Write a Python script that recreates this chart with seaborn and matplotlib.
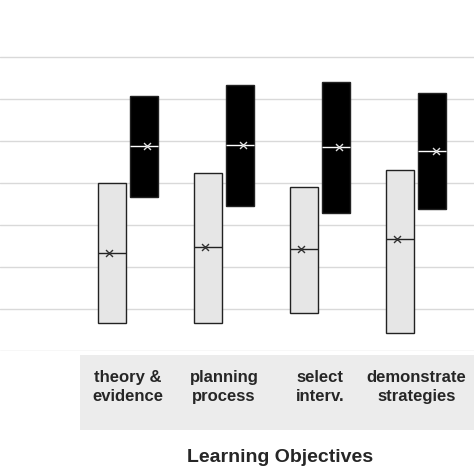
import matplotlib
matplotlib.use('Agg')

import matplotlib.pyplot as plt
import pandas as pd
import seaborn as sns
from matplotlib.patches import Rectangle

# Box stats: (q1, median, q3)
objectives = ['theory &\nevidence', 'planning\nprocess', 'select\ninterv.', 'demonstrate\nstrategies']
groups = ['pre', 'post']
pre_q1 = [0.67, 0.67, 0.90, 0.43]
pre_med = [2.33, 2.48, 2.43, 2.67]
pre_q3 = [4.00, 4.24, 3.90, 4.31]
post_q1 = [3.67, 3.45, 3.29, 3.38]
post_med = [4.88, 4.90, 4.86, 4.76]
post_q3 = [6.07, 6.33, 6.40, 6.14]

rows = []
for i, obj in enumerate(objectives):
    for g, q1, med, q3 in [('pre', pre_q1, pre_med, pre_q3), ('post', post_q1, post_med, post_q3)]:
        for v in [q1[i], q1[i], med[i], q3[i], q3[i]]:
            rows.append({'objective': obj, 'group': g, 'score': v})
df = pd.DataFrame(rows)
med_df = pd.DataFrame({
    'objective': objectives * 2,
    'group': ['pre'] * 4 + ['post'] * 4,
    'score': pre_med + post_med,
})

sns.set_style("white")
plt.rcParams['font.family'] = ['Liberation Sans', 'DejaVu Sans']

fig = plt.figure(figsize=(4.74, 4.74), dpi=100)
ax = fig.add_axes([0, (474 - 351) / 474, 1, 351 / 474])

sns.boxplot(data=df, x='objective', y='score', hue='group', hue_order=groups,
            palette={'pre': '#e6e6e6', 'post': '#000000'}, width=0.66, gap=0.12,
            whis=0, showcaps=False, showfliers=False, legend=False, ax=ax,
            linecolor='#333333', linewidth=1,
            medianprops={'color': '#ffffff'})
for patch in ax.patches:
    patch.set_edgecolor('#222222')

sns.stripplot(data=med_df, x='objective', y='score', hue='group', hue_order=groups,
              palette={'pre': '#333333', 'post': '#dddddd'}, dodge=True, jitter=False,
              marker='x', size=5, linewidth=1, legend=False, ax=ax)

# pre medians dark
for l in ax.lines:
    yd = l.get_ydata()
    if len(yd) == 2 and yd[0] == yd[1] and any(abs(yd[0] - m) < 1e-6 for m in pre_med):
        l.set_color('#222222')

# gray band behind the category labels
ax.add_patch(Rectangle((80 / 474, (474 - 430) / 474), 394 / 474, 75 / 474,
                       transform=fig.transFigure, facecolor='#ececec',
                       edgecolor='none', zorder=-10, clip_on=False))

ax.set_xlim(-1.33, 3.6)
ax.set_ylim(0, 8.36)
ax.set_yticks(range(0, 8))
ax.yaxis.grid(True, color='#d9d9d9', linewidth=1)
ax.set_axisbelow(True)
ax.set_yticklabels([])
ax.tick_params(axis='y', length=0)
ax.tick_params(axis='x', length=0, pad=14)
for s in ax.spines.values():
    s.set_visible(False)
ax.set_xticks(range(4))
ax.set_xticklabels(objectives, fontsize=12, fontweight='bold', linespacing=1.3)
for t in ax.get_xticklabels():
    t.set_zorder(5)
ax.set_ylabel('')
ax.set_xlabel('Learning Objectives', fontsize=14, fontweight='bold')
ax.xaxis.set_label_coords(280 / 474, -(98 / 351))

fig.savefig('out.png', dpi=100)
plt.close(fig)
